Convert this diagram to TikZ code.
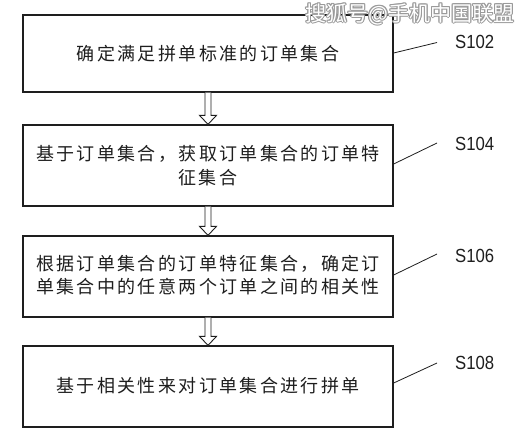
\documentclass[tikz,border=0pt]{standalone}
\usepackage{fontspec}
\usetikzlibrary{calc}
\newfontfamily\cjk[LetterSpace=13]{Noto Sans CJK SC}
\newfontfamily\cjkwm{Noto Sans CJK SC}
\newfontfamily\lab{Liberation Sans}
\definecolor{ink}{HTML}{1E1E1E}
\definecolor{wmgray}{HTML}{9A9A9A}
\tikzset{
  stepbox/.style={draw=ink, line width=1.3pt, minimum width=370pt, inner sep=0pt, fill=white,
    font=\cjk\fontsize{18pt}{23.5pt}\selectfont, text=ink},
  stepline/.style={inner sep=0pt, font=\cjk\fontsize{18pt}{23.5pt}\selectfont, text=ink},
  steplabel/.style={font=\lab\fontsize{19pt}{19pt}\selectfont, xscale=0.88, inner sep=0pt, anchor=west, text=ink},
  leader/.style={draw=ink, line width=0.8pt},
  hollow/.style={draw=ink, line width=0.9pt, fill=white, line join=miter},
  wmout/.style={font=\cjkwm\fontsize{21pt}{21pt}\selectfont, text=wmgray, inner sep=0pt},
  wmin/.style={font=\cjkwm\fontsize{21pt}{21pt}\selectfont, text=white, inner sep=0pt}
}
\newcommand{\hollowarrow}[2]{%
  \draw[hollow] let \p1=(#1.south), \p2=(#2.north) in
    (\x1-3pt,\y1) -- (\x1-3pt,\y2+9pt) -- (\x1-8.5pt,\y2+9pt) -- (\x1,\y2)
    -- (\x1+8.5pt,\y2+9pt) -- (\x1+3pt,\y2+9pt) -- (\x1+3pt,\y1);
}
\begin{document}
\begin{tikzpicture}[x=1pt,y=-1pt]
\useasboundingbox (0,0) rectangle (521,444);
\fill[white] (0,0) rectangle (521,444);

% boxes (frames first)
\node[stepbox, minimum height=77pt] (b1) at (208,53.5) {确定满足拼单标准的订单集合};
\node[stepbox, minimum height=81pt] (b2) at (208,165.5) {};
\node[stepbox, minimum height=81pt] (b3) at (208,276.5) {};
\node[stepbox, minimum height=81pt] (b4) at (208,386.5) {\raisebox{3pt}{基于相关性来对订单集合进行拼单}};

% box 2 text, with drawing between the lines
\node[stepline] (t2a) at ([yshift=11.5pt]b2.center) {基于订单集合，获取订单集合的订单特};
\hollowarrow{b1}{b2}
\node[stepline] (t2b) at ([yshift=-12.5pt]b2.center) {征集合};
\hollowarrow{b2}{b3}

% box 3 text
\node[stepline] (t3a) at ([yshift=12.5pt]b3.center) {根据订单集合的订单特征集合，确定订};
\hollowarrow{b3}{b4}
\node[stepline] (t3b) at ([yshift=-10.5pt]b3.center) {单集合中的任意两个订单之间的相关性};

% labels
\coordinate (e1) at (437,42.5);
\coordinate (e2) at (437,143);
\coordinate (e3) at (437,254);
\coordinate (e4) at (437,363);
\node[steplabel] (s1) at (455,42) {S102};
\draw[leader] ([yshift=0.5pt]b1.east) -- (e1);
\node[steplabel] (s2) at (455,144) {S104};
\draw[leader] ([yshift=1.5pt]b2.east) -- (e2);
\node[steplabel] (s3) at (455,256) {S106};
\draw[leader] ([yshift=1.5pt]b3.east) -- (e3);
\node[steplabel] (s4) at (455,363) {S108};
\draw[leader] ([yshift=3.5pt]b4.east) -- (e4);

% watermark
\foreach \dx/\dy [count=\i] in {-1/0,1/0,0/-1,0/1,-0.8/-0.8,0.8/0.8,-0.8/0.8,0.8/-0.8}{
  \node[wmout] (wmo\i) at (410+\dx,14+\dy) {搜狐号@手机中国联盟};
  \fill[white, opacity=0] (0,0) rectangle (0.1,0.1);
}
\node[wmin] (wm) at (410,14) {搜狐号@手机中国联盟};
\end{tikzpicture}
\end{document}
